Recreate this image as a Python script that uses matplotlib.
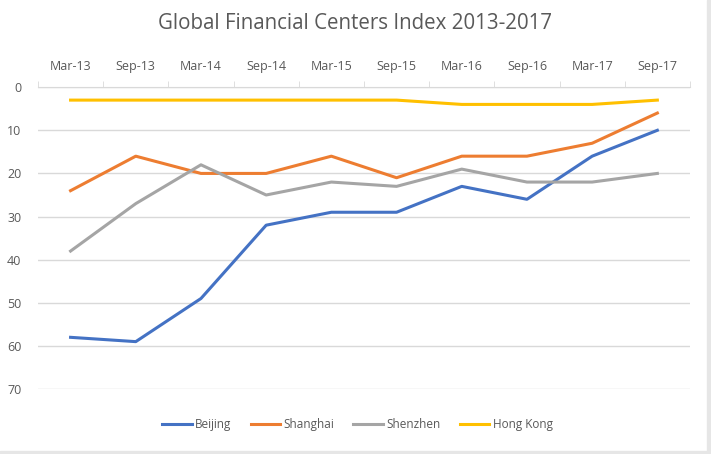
import matplotlib.pyplot as plt
from matplotlib.patches import Rectangle

plt.rcParams['font.family'] = ['Open Sans', 'DejaVu Sans']

periods = ['Mar-13', 'Sep-13', 'Mar-14', 'Sep-14', 'Mar-15',
           'Sep-15', 'Mar-16', 'Sep-16', 'Mar-17', 'Sep-17']
beijing = [58, 59, 49, 32, 29, 29, 23, 26, 16, 10]
shanghai = [24, 16, 20, 20, 16, 21, 16, 16, 13, 6]
shenzhen = [38, 27, 18, 25, 22, 23, 19, 22, 22, 20]
hong_kong = [3, 3, 3, 3, 3, 3, 4, 4, 4, 3]

series = [('Beijing', beijing, '#4472C4'),
          ('Shanghai', shanghai, '#ED7D31'),
          ('Shenzhen', shenzhen, '#A5A5A5'),
          ('Hong Kong', hong_kong, '#FFC000')]

fig = plt.figure(figsize=(7.11, 4.54), dpi=100)
ax = fig.add_axes([0.0534, 0.143, 0.917, 0.665])

x = list(range(len(periods)))
for name, vals, col in series:
    ax.plot(x, vals, color=col, linewidth=2.2, label=name)

ax.set_xlim(-0.5, len(periods) - 0.5)
ax.set_ylim(70, 0)
ax.set_yticks(range(0, 80, 10))
ax.yaxis.grid(True, color='#d9d9d9', linewidth=1)
ax.set_axisbelow(True)

ax.xaxis.tick_top()
ax.set_xticks(x)
ax.set_xticklabels(periods)
ax.set_xticks([i - 0.5 for i in range(len(periods) + 1)], minor=True)
ax.tick_params(axis='x', which='major', length=0, pad=10, labelsize=9, labelcolor='#595959')
ax.tick_params(axis='x', which='minor', length=4, color='#d9d9d9', direction='out')
ax.tick_params(axis='y', length=0, pad=12, labelsize=9, labelcolor='#595959')

for s in ['left', 'right', 'bottom']:
    ax.spines[s].set_visible(False)
ax.spines['top'].set_color('#d9d9d9')

fig.suptitle('Global Financial Centers Index 2013-2017', x=0.5, y=0.972,
             fontsize=14.8, color='#595959')

ax.legend(loc='upper center', bbox_to_anchor=(0.49, -0.06), ncol=4, frameon=False,
          fontsize=8.5, labelcolor='#595959', handlelength=2.5, handletextpad=0.3,
          columnspacing=1.6)

fig.patches.append(Rectangle((0.994, 0), 0.006, 1, transform=fig.transFigure,
                             color='#e6e6e6', zorder=0))
fig.patches.append(Rectangle((0, 0), 1, 0.006, transform=fig.transFigure,
                             color='#e6e6e6', zorder=0))

fig.savefig('out.png', dpi=100)
